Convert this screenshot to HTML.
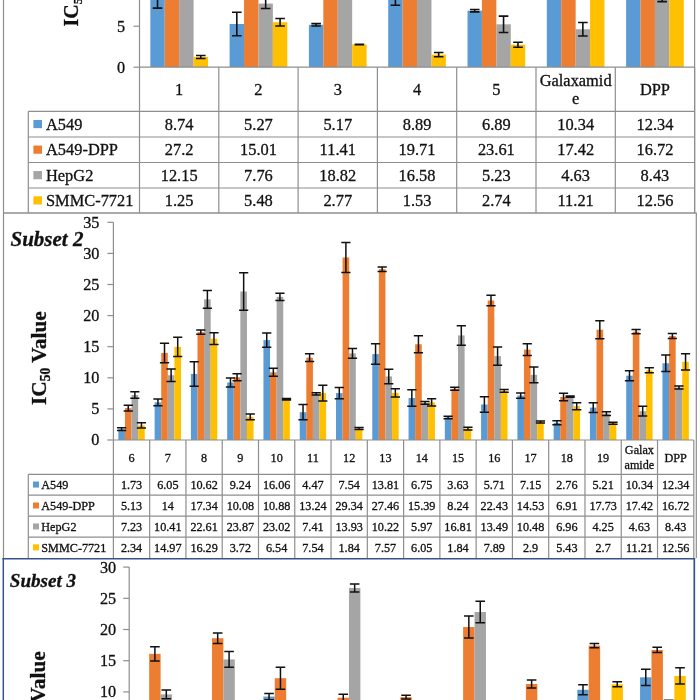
<!DOCTYPE html>
<html><head><meta charset="utf-8"><title>IC50 charts</title>
<style>html,body{margin:0;padding:0;background:#fff;width:700px;height:700px;overflow:hidden}svg{display:block;filter:blur(0.35px)}text{font-family:"Liberation Serif",serif;stroke:#111;stroke-width:0.3px}</style>
</head><body>
<svg width="700" height="700" viewBox="0 0 700 700" font-family="'Liberation Serif', serif" fill="#111">
<defs>
<clipPath id="c1"><rect x="0" y="0" width="700" height="67.2"/></clipPath>
<clipPath id="c2"><rect x="0" y="213" width="700" height="227"/></clipPath>
<clipPath id="c3"><rect x="0" y="558" width="700" height="142"/></clipPath>
</defs>
<rect width="700" height="700" fill="#fff"/>
<g clip-path="url(#c1)">
<rect x="150.31" y="-4.47" width="14.42" height="71.67" fill="#5B9BD5"/>
<rect x="164.73" y="-155.84" width="14.42" height="223.04" fill="#ED7D31"/>
<rect x="179.15" y="-32.43" width="14.42" height="99.63" fill="#A5A5A5"/>
<rect x="193.57" y="56.95" width="14.42" height="10.25" fill="#FFC000"/>
<rect x="229.61" y="23.99" width="14.42" height="43.21" fill="#5B9BD5"/>
<rect x="244.03" y="-55.88" width="14.42" height="123.08" fill="#ED7D31"/>
<rect x="258.45" y="3.57" width="14.42" height="63.63" fill="#A5A5A5"/>
<rect x="272.87" y="22.26" width="14.42" height="44.94" fill="#FFC000"/>
<rect x="308.91" y="24.81" width="14.42" height="42.39" fill="#5B9BD5"/>
<rect x="323.33" y="-26.36" width="14.42" height="93.56" fill="#ED7D31"/>
<rect x="337.75" y="-87.12" width="14.42" height="154.32" fill="#A5A5A5"/>
<rect x="352.17" y="44.49" width="14.42" height="22.71" fill="#FFC000"/>
<rect x="388.21" y="-5.70" width="14.42" height="72.90" fill="#5B9BD5"/>
<rect x="402.63" y="-94.42" width="14.42" height="161.62" fill="#ED7D31"/>
<rect x="417.05" y="-68.76" width="14.42" height="135.96" fill="#A5A5A5"/>
<rect x="431.47" y="54.65" width="14.42" height="12.55" fill="#FFC000"/>
<rect x="467.51" y="10.70" width="14.42" height="56.50" fill="#5B9BD5"/>
<rect x="481.93" y="-126.40" width="14.42" height="193.60" fill="#ED7D31"/>
<rect x="496.35" y="24.31" width="14.42" height="42.89" fill="#A5A5A5"/>
<rect x="510.77" y="44.73" width="14.42" height="22.47" fill="#FFC000"/>
<rect x="546.81" y="-17.59" width="14.42" height="84.79" fill="#5B9BD5"/>
<rect x="561.23" y="-75.64" width="14.42" height="142.84" fill="#ED7D31"/>
<rect x="575.65" y="29.23" width="14.42" height="37.97" fill="#A5A5A5"/>
<rect x="590.07" y="-24.72" width="14.42" height="91.92" fill="#FFC000"/>
<rect x="626.11" y="-33.99" width="14.42" height="101.19" fill="#5B9BD5"/>
<rect x="640.53" y="-69.90" width="14.42" height="137.10" fill="#ED7D31"/>
<rect x="654.95" y="-1.93" width="14.42" height="69.13" fill="#A5A5A5"/>
<rect x="669.37" y="-35.79" width="14.42" height="102.99" fill="#FFC000"/>
<path d="M152.72 -17.10H162.32M152.72 8.16H162.32M157.52 -17.10V8.16" stroke="#111" stroke-width="1.6" fill="none"/>
<path d="M167.14 -168.14H176.74M167.14 -143.54H176.74M171.94 -168.14V-143.54" stroke="#111" stroke-width="1.6" fill="none"/>
<path d="M181.56 -38.99H191.16M181.56 -25.87H191.16M186.36 -38.99V-25.87" stroke="#111" stroke-width="1.6" fill="none"/>
<path d="M195.98 55.47H205.58M195.98 58.43H205.58M200.78 55.47V58.43" stroke="#111" stroke-width="1.6" fill="none"/>
<path d="M232.02 12.26H241.62M232.02 35.71H241.62M236.82 12.26V35.71" stroke="#111" stroke-width="1.6" fill="none"/>
<path d="M246.44 -64.08H256.04M246.44 -47.68H256.04M251.24 -64.08V-47.68" stroke="#111" stroke-width="1.6" fill="none"/>
<path d="M260.86 -1.35H270.46M260.86 8.49H270.46M265.66 -1.35V8.49" stroke="#111" stroke-width="1.6" fill="none"/>
<path d="M275.28 18.57H284.88M275.28 25.95H284.88M280.08 18.57V25.95" stroke="#111" stroke-width="1.6" fill="none"/>
<path d="M311.32 23.66H320.92M311.32 25.95H320.92M316.12 23.66V25.95" stroke="#111" stroke-width="1.6" fill="none"/>
<path d="M325.74 -31.28H335.34M325.74 -21.44H335.34M330.54 -31.28V-21.44" stroke="#111" stroke-width="1.6" fill="none"/>
<path d="M340.16 -95.32H349.76M340.16 -78.92H349.76M344.96 -95.32V-78.92" stroke="#111" stroke-width="1.6" fill="none"/>
<path d="M354.58 44.24H364.18M354.58 44.73H364.18M359.38 44.24V44.73" stroke="#111" stroke-width="1.6" fill="none"/>
<path d="M390.62 -16.69H400.22M390.62 5.29H400.22M395.42 -16.69V5.29" stroke="#111" stroke-width="1.6" fill="none"/>
<path d="M405.04 -102.62H414.64M405.04 -86.22H414.64M409.84 -102.62V-86.22" stroke="#111" stroke-width="1.6" fill="none"/>
<path d="M419.46 -76.14H429.06M419.46 -61.38H429.06M424.26 -76.14V-61.38" stroke="#111" stroke-width="1.6" fill="none"/>
<path d="M433.88 52.52H443.48M433.88 56.79H443.48M438.68 52.52V56.79" stroke="#111" stroke-width="1.6" fill="none"/>
<path d="M469.92 9.55H479.52M469.92 11.85H479.52M474.72 9.55V11.85" stroke="#111" stroke-width="1.6" fill="none"/>
<path d="M484.34 -136.24H493.94M484.34 -116.56H493.94M489.14 -136.24V-116.56" stroke="#111" stroke-width="1.6" fill="none"/>
<path d="M498.76 16.11H508.36M498.76 32.51H508.36M503.56 16.11V32.51" stroke="#111" stroke-width="1.6" fill="none"/>
<path d="M513.18 42.19H522.78M513.18 47.27H522.78M517.98 42.19V47.27" stroke="#111" stroke-width="1.6" fill="none"/>
<path d="M549.22 -24.15H558.82M549.22 -11.03H558.82M554.02 -24.15V-11.03" stroke="#111" stroke-width="1.6" fill="none"/>
<path d="M563.64 -78.51H573.24M563.64 -72.77H573.24M568.44 -78.51V-72.77" stroke="#111" stroke-width="1.6" fill="none"/>
<path d="M578.06 22.51H587.66M578.06 35.96H587.66M582.86 22.51V35.96" stroke="#111" stroke-width="1.6" fill="none"/>
<path d="M592.48 -28.00H602.08M592.48 -21.44H602.08M597.28 -28.00V-21.44" stroke="#111" stroke-width="1.6" fill="none"/>
<path d="M628.52 -44.65H638.12M628.52 -23.33H638.12M633.32 -44.65V-23.33" stroke="#111" stroke-width="1.6" fill="none"/>
<path d="M642.94 -73.35H652.54M642.94 -66.46H652.54M647.74 -73.35V-66.46" stroke="#111" stroke-width="1.6" fill="none"/>
<path d="M657.36 -5.45H666.96M657.36 1.60H666.96M662.16 -5.45V1.60" stroke="#111" stroke-width="1.6" fill="none"/>
<path d="M671.78 -46.45H681.38M671.78 -25.13H681.38M676.58 -46.45V-25.13" stroke="#111" stroke-width="1.6" fill="none"/>
</g>
<line x1="139.50" y1="0.00" x2="139.50" y2="111.30" stroke="#8e8e8e" stroke-width="1.2"/>
<line x1="133.50" y1="67.20" x2="139.50" y2="67.20" stroke="#8e8e8e" stroke-width="1.2"/>
<text x="125.00" y="72.60" font-size="16.2" text-anchor="end" font-weight="normal" font-style="normal" >0</text>
<line x1="133.50" y1="26.20" x2="139.50" y2="26.20" stroke="#8e8e8e" stroke-width="1.2"/>
<text x="125.00" y="31.60" font-size="16.2" text-anchor="end" font-weight="normal" font-style="normal" >5</text>
<line x1="139.50" y1="67.20" x2="694.60" y2="67.20" stroke="#8e8e8e" stroke-width="1.2"/>
<line x1="218.80" y1="67.20" x2="218.80" y2="213.00" stroke="#8e8e8e" stroke-width="1.2"/>
<line x1="298.10" y1="67.20" x2="298.10" y2="213.00" stroke="#8e8e8e" stroke-width="1.2"/>
<line x1="377.40" y1="67.20" x2="377.40" y2="213.00" stroke="#8e8e8e" stroke-width="1.2"/>
<line x1="456.70" y1="67.20" x2="456.70" y2="213.00" stroke="#8e8e8e" stroke-width="1.2"/>
<line x1="536.00" y1="67.20" x2="536.00" y2="213.00" stroke="#8e8e8e" stroke-width="1.2"/>
<line x1="615.30" y1="67.20" x2="615.30" y2="213.00" stroke="#8e8e8e" stroke-width="1.2"/>
<line x1="694.60" y1="67.20" x2="694.60" y2="213.00" stroke="#8e8e8e" stroke-width="1.2"/>
<line x1="28.30" y1="111.30" x2="28.30" y2="213.00" stroke="#8e8e8e" stroke-width="1.2"/>
<line x1="139.50" y1="111.30" x2="139.50" y2="213.00" stroke="#8e8e8e" stroke-width="1.2"/>
<line x1="28.30" y1="111.30" x2="694.60" y2="111.30" stroke="#8e8e8e" stroke-width="1.2"/>
<line x1="28.30" y1="137.00" x2="694.60" y2="137.00" stroke="#8e8e8e" stroke-width="1.2"/>
<line x1="28.30" y1="162.50" x2="694.60" y2="162.50" stroke="#8e8e8e" stroke-width="1.2"/>
<line x1="28.30" y1="188.00" x2="694.60" y2="188.00" stroke="#8e8e8e" stroke-width="1.2"/>
<text x="179.15" y="94.80" font-size="16.4" text-anchor="middle" font-weight="normal" font-style="normal" >1</text>
<text x="258.45" y="94.80" font-size="16.4" text-anchor="middle" font-weight="normal" font-style="normal" >2</text>
<text x="337.75" y="94.80" font-size="16.4" text-anchor="middle" font-weight="normal" font-style="normal" >3</text>
<text x="417.05" y="94.80" font-size="16.4" text-anchor="middle" font-weight="normal" font-style="normal" >4</text>
<text x="496.35" y="94.80" font-size="16.4" text-anchor="middle" font-weight="normal" font-style="normal" >5</text>
<text x="575.65" y="85.50" font-size="16.4" text-anchor="middle" font-weight="normal" font-style="normal" >Galaxamid</text>
<text x="575.65" y="104.00" font-size="16.4" text-anchor="middle" font-weight="normal" font-style="normal" >e</text>
<text x="654.95" y="94.80" font-size="16.4" text-anchor="middle" font-weight="normal" font-style="normal" >DPP</text>
<rect x="33.40" y="119.95" width="8.60" height="8.20" fill="#5B9BD5"/>
<text x="46.00" y="129.65" font-size="16.4" text-anchor="start" font-weight="normal" font-style="normal" >A549</text>
<text x="179.15" y="129.65" font-size="16.4" text-anchor="middle" font-weight="normal" font-style="normal" >8.74</text>
<text x="258.45" y="129.65" font-size="16.4" text-anchor="middle" font-weight="normal" font-style="normal" >5.27</text>
<text x="337.75" y="129.65" font-size="16.4" text-anchor="middle" font-weight="normal" font-style="normal" >5.17</text>
<text x="417.05" y="129.65" font-size="16.4" text-anchor="middle" font-weight="normal" font-style="normal" >8.89</text>
<text x="496.35" y="129.65" font-size="16.4" text-anchor="middle" font-weight="normal" font-style="normal" >6.89</text>
<text x="575.65" y="129.65" font-size="16.4" text-anchor="middle" font-weight="normal" font-style="normal" >10.34</text>
<text x="654.95" y="129.65" font-size="16.4" text-anchor="middle" font-weight="normal" font-style="normal" >12.34</text>
<rect x="33.40" y="145.55" width="8.60" height="8.20" fill="#ED7D31"/>
<text x="46.00" y="155.25" font-size="16.4" text-anchor="start" font-weight="normal" font-style="normal" >A549-DPP</text>
<text x="179.15" y="155.25" font-size="16.4" text-anchor="middle" font-weight="normal" font-style="normal" >27.2</text>
<text x="258.45" y="155.25" font-size="16.4" text-anchor="middle" font-weight="normal" font-style="normal" >15.01</text>
<text x="337.75" y="155.25" font-size="16.4" text-anchor="middle" font-weight="normal" font-style="normal" >11.41</text>
<text x="417.05" y="155.25" font-size="16.4" text-anchor="middle" font-weight="normal" font-style="normal" >19.71</text>
<text x="496.35" y="155.25" font-size="16.4" text-anchor="middle" font-weight="normal" font-style="normal" >23.61</text>
<text x="575.65" y="155.25" font-size="16.4" text-anchor="middle" font-weight="normal" font-style="normal" >17.42</text>
<text x="654.95" y="155.25" font-size="16.4" text-anchor="middle" font-weight="normal" font-style="normal" >16.72</text>
<rect x="33.40" y="171.05" width="8.60" height="8.20" fill="#A5A5A5"/>
<text x="46.00" y="180.75" font-size="16.4" text-anchor="start" font-weight="normal" font-style="normal" >HepG2</text>
<text x="179.15" y="180.75" font-size="16.4" text-anchor="middle" font-weight="normal" font-style="normal" >12.15</text>
<text x="258.45" y="180.75" font-size="16.4" text-anchor="middle" font-weight="normal" font-style="normal" >7.76</text>
<text x="337.75" y="180.75" font-size="16.4" text-anchor="middle" font-weight="normal" font-style="normal" >18.82</text>
<text x="417.05" y="180.75" font-size="16.4" text-anchor="middle" font-weight="normal" font-style="normal" >16.58</text>
<text x="496.35" y="180.75" font-size="16.4" text-anchor="middle" font-weight="normal" font-style="normal" >5.23</text>
<text x="575.65" y="180.75" font-size="16.4" text-anchor="middle" font-weight="normal" font-style="normal" >4.63</text>
<text x="654.95" y="180.75" font-size="16.4" text-anchor="middle" font-weight="normal" font-style="normal" >8.43</text>
<rect x="33.40" y="196.30" width="8.60" height="8.20" fill="#FFC000"/>
<text x="46.00" y="206.00" font-size="16.4" text-anchor="start" font-weight="normal" font-style="normal" >SMMC-7721</text>
<text x="179.15" y="206.00" font-size="16.4" text-anchor="middle" font-weight="normal" font-style="normal" >1.25</text>
<text x="258.45" y="206.00" font-size="16.4" text-anchor="middle" font-weight="normal" font-style="normal" >5.48</text>
<text x="337.75" y="206.00" font-size="16.4" text-anchor="middle" font-weight="normal" font-style="normal" >2.77</text>
<text x="417.05" y="206.00" font-size="16.4" text-anchor="middle" font-weight="normal" font-style="normal" >1.53</text>
<text x="496.35" y="206.00" font-size="16.4" text-anchor="middle" font-weight="normal" font-style="normal" >2.74</text>
<text x="575.65" y="206.00" font-size="16.4" text-anchor="middle" font-weight="normal" font-style="normal" >11.21</text>
<text x="654.95" y="206.00" font-size="16.4" text-anchor="middle" font-weight="normal" font-style="normal" >12.56</text>
<text transform="translate(77.5,26.6) rotate(-90)" font-size="20" font-weight="bold" text-anchor="start">IC<tspan font-size="12.8" dy="4.3">50</tspan><tspan dy="-4.5"> Value</tspan></text>
<line x1="3.50" y1="0.00" x2="3.50" y2="213.00" stroke="#8e8e8e" stroke-width="1.2"/>
<line x1="694.60" y1="0.00" x2="694.60" y2="213.00" stroke="#8e8e8e" stroke-width="1.2"/>
<g clip-path="url(#c2)">
<rect x="118.35" y="429.24" width="6.60" height="10.76" fill="#5B9BD5"/>
<rect x="124.94" y="408.09" width="6.60" height="31.91" fill="#ED7D31"/>
<rect x="131.54" y="395.03" width="6.60" height="44.97" fill="#A5A5A5"/>
<rect x="138.13" y="425.45" width="6.60" height="14.55" fill="#FFC000"/>
<rect x="154.62" y="402.37" width="6.60" height="37.63" fill="#5B9BD5"/>
<rect x="161.22" y="352.92" width="6.60" height="87.08" fill="#ED7D31"/>
<rect x="167.81" y="375.25" width="6.60" height="64.75" fill="#A5A5A5"/>
<rect x="174.41" y="346.89" width="6.60" height="93.11" fill="#FFC000"/>
<rect x="190.90" y="373.94" width="6.60" height="66.06" fill="#5B9BD5"/>
<rect x="197.49" y="332.15" width="6.60" height="107.85" fill="#ED7D31"/>
<rect x="204.09" y="299.37" width="6.60" height="140.63" fill="#A5A5A5"/>
<rect x="210.68" y="338.68" width="6.60" height="101.32" fill="#FFC000"/>
<rect x="227.17" y="382.53" width="6.60" height="57.47" fill="#5B9BD5"/>
<rect x="233.77" y="377.30" width="6.60" height="62.70" fill="#ED7D31"/>
<rect x="240.36" y="291.53" width="6.60" height="148.47" fill="#A5A5A5"/>
<rect x="246.96" y="416.86" width="6.60" height="23.14" fill="#FFC000"/>
<rect x="263.45" y="340.11" width="6.60" height="99.89" fill="#5B9BD5"/>
<rect x="270.04" y="372.33" width="6.60" height="67.67" fill="#ED7D31"/>
<rect x="276.64" y="296.82" width="6.60" height="143.18" fill="#A5A5A5"/>
<rect x="283.23" y="399.32" width="6.60" height="40.68" fill="#FFC000"/>
<rect x="299.72" y="412.20" width="6.60" height="27.80" fill="#5B9BD5"/>
<rect x="306.32" y="357.65" width="6.60" height="82.35" fill="#ED7D31"/>
<rect x="312.91" y="393.91" width="6.60" height="46.09" fill="#A5A5A5"/>
<rect x="319.51" y="393.10" width="6.60" height="46.90" fill="#FFC000"/>
<rect x="336.00" y="393.10" width="6.60" height="46.90" fill="#5B9BD5"/>
<rect x="342.59" y="257.51" width="6.60" height="182.49" fill="#ED7D31"/>
<rect x="349.19" y="353.36" width="6.60" height="86.64" fill="#A5A5A5"/>
<rect x="355.78" y="428.56" width="6.60" height="11.44" fill="#FFC000"/>
<rect x="372.27" y="354.10" width="6.60" height="85.90" fill="#5B9BD5"/>
<rect x="378.87" y="269.20" width="6.60" height="170.80" fill="#ED7D31"/>
<rect x="385.46" y="376.43" width="6.60" height="63.57" fill="#A5A5A5"/>
<rect x="392.06" y="392.91" width="6.60" height="47.09" fill="#FFC000"/>
<rect x="408.55" y="398.01" width="6.60" height="41.98" fill="#5B9BD5"/>
<rect x="415.14" y="344.27" width="6.60" height="95.73" fill="#ED7D31"/>
<rect x="421.74" y="402.87" width="6.60" height="37.13" fill="#A5A5A5"/>
<rect x="428.33" y="402.37" width="6.60" height="37.63" fill="#FFC000"/>
<rect x="444.82" y="417.42" width="6.60" height="22.58" fill="#5B9BD5"/>
<rect x="451.42" y="388.75" width="6.60" height="51.25" fill="#ED7D31"/>
<rect x="458.01" y="335.44" width="6.60" height="104.56" fill="#A5A5A5"/>
<rect x="464.61" y="428.56" width="6.60" height="11.44" fill="#FFC000"/>
<rect x="481.10" y="404.48" width="6.60" height="35.52" fill="#5B9BD5"/>
<rect x="487.69" y="300.49" width="6.60" height="139.51" fill="#ED7D31"/>
<rect x="494.29" y="356.09" width="6.60" height="83.91" fill="#A5A5A5"/>
<rect x="500.88" y="390.92" width="6.60" height="49.08" fill="#FFC000"/>
<rect x="517.37" y="395.53" width="6.60" height="44.47" fill="#5B9BD5"/>
<rect x="523.97" y="349.62" width="6.60" height="90.38" fill="#ED7D31"/>
<rect x="530.56" y="374.81" width="6.60" height="65.19" fill="#A5A5A5"/>
<rect x="537.16" y="421.96" width="6.60" height="18.04" fill="#FFC000"/>
<rect x="553.65" y="422.83" width="6.60" height="17.17" fill="#5B9BD5"/>
<rect x="560.24" y="397.02" width="6.60" height="42.98" fill="#ED7D31"/>
<rect x="566.84" y="396.71" width="6.60" height="43.29" fill="#A5A5A5"/>
<rect x="573.43" y="406.23" width="6.60" height="33.77" fill="#FFC000"/>
<rect x="589.92" y="407.59" width="6.60" height="32.41" fill="#5B9BD5"/>
<rect x="596.52" y="329.72" width="6.60" height="110.28" fill="#ED7D31"/>
<rect x="603.11" y="413.56" width="6.60" height="26.43" fill="#A5A5A5"/>
<rect x="609.71" y="423.21" width="6.60" height="16.79" fill="#FFC000"/>
<rect x="626.20" y="375.69" width="6.60" height="64.31" fill="#5B9BD5"/>
<rect x="632.79" y="331.65" width="6.60" height="108.35" fill="#ED7D31"/>
<rect x="639.39" y="411.20" width="6.60" height="28.80" fill="#A5A5A5"/>
<rect x="645.98" y="370.27" width="6.60" height="69.73" fill="#FFC000"/>
<rect x="662.47" y="363.25" width="6.60" height="76.75" fill="#5B9BD5"/>
<rect x="669.07" y="336.00" width="6.60" height="104.00" fill="#ED7D31"/>
<rect x="675.66" y="387.57" width="6.60" height="52.43" fill="#A5A5A5"/>
<rect x="682.26" y="361.88" width="6.60" height="78.12" fill="#FFC000"/>
<path d="M117.04 427.87H126.24M117.04 430.61H126.24M121.64 427.87V430.61" stroke="#111" stroke-width="1.5" fill="none"/>
<path d="M123.64 405.29H132.84M123.64 410.89H132.84M128.24 405.29V410.89" stroke="#111" stroke-width="1.5" fill="none"/>
<path d="M130.24 391.80H139.44M130.24 398.26H139.44M134.84 391.80V398.26" stroke="#111" stroke-width="1.5" fill="none"/>
<path d="M136.83 422.77H146.03M136.83 428.12H146.03M141.43 422.77V428.12" stroke="#111" stroke-width="1.5" fill="none"/>
<path d="M153.32 398.95H162.52M153.32 405.79H162.52M157.92 398.95V405.79" stroke="#111" stroke-width="1.5" fill="none"/>
<path d="M159.91 343.15H169.11M159.91 362.69H169.11M164.51 343.15V362.69" stroke="#111" stroke-width="1.5" fill="none"/>
<path d="M166.51 369.03H175.71M166.51 381.47H175.71M171.11 369.03V381.47" stroke="#111" stroke-width="1.5" fill="none"/>
<path d="M173.11 337.25H182.31M173.11 356.53H182.31M177.71 337.25V356.53" stroke="#111" stroke-width="1.5" fill="none"/>
<path d="M189.59 361.75H198.79M189.59 386.13H198.79M194.19 361.75V386.13" stroke="#111" stroke-width="1.5" fill="none"/>
<path d="M196.19 330.03H205.39M196.19 334.26H205.39M200.79 330.03V334.26" stroke="#111" stroke-width="1.5" fill="none"/>
<path d="M202.79 290.47H211.99M202.79 308.26H211.99M207.39 290.47V308.26" stroke="#111" stroke-width="1.5" fill="none"/>
<path d="M209.38 332.77H218.58M209.38 344.59H218.58M213.98 332.77V344.59" stroke="#111" stroke-width="1.5" fill="none"/>
<path d="M225.87 378.05H235.07M225.87 387.01H235.07M230.47 378.05V387.01" stroke="#111" stroke-width="1.5" fill="none"/>
<path d="M232.46 373.76H241.66M232.46 380.85H241.66M237.06 373.76V380.85" stroke="#111" stroke-width="1.5" fill="none"/>
<path d="M239.06 272.87H248.26M239.06 310.19H248.26M243.66 272.87V310.19" stroke="#111" stroke-width="1.5" fill="none"/>
<path d="M245.66 414.00H254.86M245.66 419.72H254.86M250.26 414.00V419.72" stroke="#111" stroke-width="1.5" fill="none"/>
<path d="M262.14 333.02H271.34M262.14 347.20H271.34M266.74 333.02V347.20" stroke="#111" stroke-width="1.5" fill="none"/>
<path d="M268.74 368.35H277.94M268.74 376.31H277.94M273.34 368.35V376.31" stroke="#111" stroke-width="1.5" fill="none"/>
<path d="M275.34 293.15H284.54M275.34 300.49H284.54M279.94 293.15V300.49" stroke="#111" stroke-width="1.5" fill="none"/>
<path d="M281.93 398.57H291.13M281.93 400.07H291.13M286.53 398.57V400.07" stroke="#111" stroke-width="1.5" fill="none"/>
<path d="M298.42 404.55H307.62M298.42 419.85H307.62M303.02 404.55V419.85" stroke="#111" stroke-width="1.5" fill="none"/>
<path d="M305.01 353.79H314.21M305.01 361.50H314.21M309.61 353.79V361.50" stroke="#111" stroke-width="1.5" fill="none"/>
<path d="M311.61 392.85H320.81M311.61 394.97H320.81M316.21 392.85V394.97" stroke="#111" stroke-width="1.5" fill="none"/>
<path d="M318.21 385.26H327.41M318.21 400.94H327.41M322.81 385.26V400.94" stroke="#111" stroke-width="1.5" fill="none"/>
<path d="M334.69 387.57H343.89M334.69 398.64H343.89M339.29 387.57V398.64" stroke="#111" stroke-width="1.5" fill="none"/>
<path d="M341.29 242.45H350.49M341.29 272.56H350.49M345.89 242.45V272.56" stroke="#111" stroke-width="1.5" fill="none"/>
<path d="M347.89 348.44H357.09M347.89 358.27H357.09M352.49 348.44V358.27" stroke="#111" stroke-width="1.5" fill="none"/>
<path d="M354.48 427.50H363.68M354.48 429.61H363.68M359.08 427.50V429.61" stroke="#111" stroke-width="1.5" fill="none"/>
<path d="M370.97 343.84H380.17M370.97 364.36H380.17M375.57 343.84V364.36" stroke="#111" stroke-width="1.5" fill="none"/>
<path d="M377.56 266.90H386.76M377.56 271.50H386.76M382.16 266.90V271.50" stroke="#111" stroke-width="1.5" fill="none"/>
<path d="M384.16 369.22H393.36M384.16 383.65H393.36M388.76 369.22V383.65" stroke="#111" stroke-width="1.5" fill="none"/>
<path d="M390.76 388.75H399.96M390.76 397.08H399.96M395.36 388.75V397.08" stroke="#111" stroke-width="1.5" fill="none"/>
<path d="M407.24 389.74H416.44M407.24 406.29H416.44M411.84 389.74V406.29" stroke="#111" stroke-width="1.5" fill="none"/>
<path d="M413.84 335.69H423.04M413.84 352.86H423.04M418.44 335.69V352.86" stroke="#111" stroke-width="1.5" fill="none"/>
<path d="M420.44 401.50H429.64M420.44 404.24H429.64M425.04 401.50V404.24" stroke="#111" stroke-width="1.5" fill="none"/>
<path d="M427.03 398.70H436.23M427.03 406.04H436.23M431.63 398.70V406.04" stroke="#111" stroke-width="1.5" fill="none"/>
<path d="M443.52 416.18H452.72M443.52 418.67H452.72M448.12 416.18V418.67" stroke="#111" stroke-width="1.5" fill="none"/>
<path d="M450.11 387.19H459.31M450.11 390.30H459.31M454.71 387.19V390.30" stroke="#111" stroke-width="1.5" fill="none"/>
<path d="M456.71 325.74H465.91M456.71 345.14H465.91M461.31 325.74V345.14" stroke="#111" stroke-width="1.5" fill="none"/>
<path d="M463.31 427.19H472.51M463.31 429.92H472.51M467.91 427.19V429.92" stroke="#111" stroke-width="1.5" fill="none"/>
<path d="M479.79 396.83H488.99M479.79 412.13H488.99M484.39 396.83V412.13" stroke="#111" stroke-width="1.5" fill="none"/>
<path d="M486.39 295.26H495.59M486.39 305.71H495.59M490.99 295.26V305.71" stroke="#111" stroke-width="1.5" fill="none"/>
<path d="M492.99 346.89H502.19M492.99 365.30H502.19M497.59 346.89V365.30" stroke="#111" stroke-width="1.5" fill="none"/>
<path d="M499.58 389.56H508.78M499.58 392.29H508.78M504.18 389.56V392.29" stroke="#111" stroke-width="1.5" fill="none"/>
<path d="M516.07 392.91H525.27M516.07 398.14H525.27M520.67 392.91V398.14" stroke="#111" stroke-width="1.5" fill="none"/>
<path d="M522.66 343.65H531.86M522.66 355.59H531.86M527.26 343.65V355.59" stroke="#111" stroke-width="1.5" fill="none"/>
<path d="M529.26 366.98H538.46M529.26 382.65H538.46M533.86 366.98V382.65" stroke="#111" stroke-width="1.5" fill="none"/>
<path d="M535.86 421.03H545.06M535.86 422.89H545.06M540.46 421.03V422.89" stroke="#111" stroke-width="1.5" fill="none"/>
<path d="M552.34 420.84H561.54M552.34 424.82H561.54M556.94 420.84V424.82" stroke="#111" stroke-width="1.5" fill="none"/>
<path d="M558.94 393.35H568.14M558.94 400.69H568.14M563.54 393.35V400.69" stroke="#111" stroke-width="1.5" fill="none"/>
<path d="M565.54 396.09H574.74M565.54 397.33H574.74M570.14 396.09V397.33" stroke="#111" stroke-width="1.5" fill="none"/>
<path d="M572.13 402.68H581.33M572.13 409.77H581.33M576.73 402.68V409.77" stroke="#111" stroke-width="1.5" fill="none"/>
<path d="M588.62 402.68H597.82M588.62 412.51H597.82M593.22 402.68V412.51" stroke="#111" stroke-width="1.5" fill="none"/>
<path d="M595.21 320.64H604.41M595.21 338.80H604.41M599.81 320.64V338.80" stroke="#111" stroke-width="1.5" fill="none"/>
<path d="M601.81 411.70H611.01M601.81 415.43H611.01M606.41 411.70V415.43" stroke="#111" stroke-width="1.5" fill="none"/>
<path d="M608.41 422.15H617.61M608.41 424.26H617.61M613.01 422.15V424.26" stroke="#111" stroke-width="1.5" fill="none"/>
<path d="M624.89 370.65H634.09M624.89 380.72H634.09M629.49 370.65V380.72" stroke="#111" stroke-width="1.5" fill="none"/>
<path d="M631.49 329.47H640.69M631.49 333.82H640.69M636.09 329.47V333.82" stroke="#111" stroke-width="1.5" fill="none"/>
<path d="M638.09 406.29H647.29M638.09 416.12H647.29M642.69 406.29V416.12" stroke="#111" stroke-width="1.5" fill="none"/>
<path d="M644.68 367.79H653.88M644.68 372.76H653.88M649.28 367.79V372.76" stroke="#111" stroke-width="1.5" fill="none"/>
<path d="M661.17 355.10H670.37M661.17 371.39H670.37M665.77 355.10V371.39" stroke="#111" stroke-width="1.5" fill="none"/>
<path d="M667.76 333.39H676.96M667.76 338.61H676.96M672.36 333.39V338.61" stroke="#111" stroke-width="1.5" fill="none"/>
<path d="M674.36 386.01H683.56M674.36 389.12H683.56M678.96 386.01V389.12" stroke="#111" stroke-width="1.5" fill="none"/>
<path d="M680.96 353.73H690.16M680.96 370.02H690.16M685.56 353.73V370.02" stroke="#111" stroke-width="1.5" fill="none"/>
</g>
<line x1="113.40" y1="222.30" x2="113.40" y2="474.30" stroke="#8e8e8e" stroke-width="1.2"/>
<line x1="107.40" y1="440.00" x2="113.40" y2="440.00" stroke="#8e8e8e" stroke-width="1.2"/>
<text x="99.40" y="445.40" font-size="16.2" text-anchor="end" font-weight="normal" font-style="normal" >0</text>
<line x1="107.40" y1="408.90" x2="113.40" y2="408.90" stroke="#8e8e8e" stroke-width="1.2"/>
<text x="99.40" y="414.30" font-size="16.2" text-anchor="end" font-weight="normal" font-style="normal" >5</text>
<line x1="107.40" y1="377.80" x2="113.40" y2="377.80" stroke="#8e8e8e" stroke-width="1.2"/>
<text x="99.40" y="383.20" font-size="16.2" text-anchor="end" font-weight="normal" font-style="normal" >10</text>
<line x1="107.40" y1="346.70" x2="113.40" y2="346.70" stroke="#8e8e8e" stroke-width="1.2"/>
<text x="99.40" y="352.10" font-size="16.2" text-anchor="end" font-weight="normal" font-style="normal" >15</text>
<line x1="107.40" y1="315.60" x2="113.40" y2="315.60" stroke="#8e8e8e" stroke-width="1.2"/>
<text x="99.40" y="321.00" font-size="16.2" text-anchor="end" font-weight="normal" font-style="normal" >20</text>
<line x1="107.40" y1="284.50" x2="113.40" y2="284.50" stroke="#8e8e8e" stroke-width="1.2"/>
<text x="99.40" y="289.90" font-size="16.2" text-anchor="end" font-weight="normal" font-style="normal" >25</text>
<line x1="107.40" y1="253.40" x2="113.40" y2="253.40" stroke="#8e8e8e" stroke-width="1.2"/>
<text x="99.40" y="258.80" font-size="16.2" text-anchor="end" font-weight="normal" font-style="normal" >30</text>
<line x1="107.40" y1="222.30" x2="113.40" y2="222.30" stroke="#8e8e8e" stroke-width="1.2"/>
<text x="99.40" y="227.70" font-size="16.2" text-anchor="end" font-weight="normal" font-style="normal" >35</text>
<line x1="113.40" y1="440.00" x2="693.80" y2="440.00" stroke="#8e8e8e" stroke-width="1.2"/>
<line x1="149.68" y1="440.00" x2="149.68" y2="558.00" stroke="#8e8e8e" stroke-width="1.2"/>
<line x1="185.95" y1="440.00" x2="185.95" y2="558.00" stroke="#8e8e8e" stroke-width="1.2"/>
<line x1="222.22" y1="440.00" x2="222.22" y2="558.00" stroke="#8e8e8e" stroke-width="1.2"/>
<line x1="258.50" y1="440.00" x2="258.50" y2="558.00" stroke="#8e8e8e" stroke-width="1.2"/>
<line x1="294.77" y1="440.00" x2="294.77" y2="558.00" stroke="#8e8e8e" stroke-width="1.2"/>
<line x1="331.05" y1="440.00" x2="331.05" y2="558.00" stroke="#8e8e8e" stroke-width="1.2"/>
<line x1="367.32" y1="440.00" x2="367.32" y2="558.00" stroke="#8e8e8e" stroke-width="1.2"/>
<line x1="403.60" y1="440.00" x2="403.60" y2="558.00" stroke="#8e8e8e" stroke-width="1.2"/>
<line x1="439.88" y1="440.00" x2="439.88" y2="558.00" stroke="#8e8e8e" stroke-width="1.2"/>
<line x1="476.15" y1="440.00" x2="476.15" y2="558.00" stroke="#8e8e8e" stroke-width="1.2"/>
<line x1="512.42" y1="440.00" x2="512.42" y2="558.00" stroke="#8e8e8e" stroke-width="1.2"/>
<line x1="548.70" y1="440.00" x2="548.70" y2="558.00" stroke="#8e8e8e" stroke-width="1.2"/>
<line x1="584.98" y1="440.00" x2="584.98" y2="558.00" stroke="#8e8e8e" stroke-width="1.2"/>
<line x1="621.25" y1="440.00" x2="621.25" y2="558.00" stroke="#8e8e8e" stroke-width="1.2"/>
<line x1="657.52" y1="440.00" x2="657.52" y2="558.00" stroke="#8e8e8e" stroke-width="1.2"/>
<line x1="693.80" y1="440.00" x2="693.80" y2="558.00" stroke="#8e8e8e" stroke-width="1.2"/>
<line x1="28.30" y1="474.30" x2="28.30" y2="558.00" stroke="#8e8e8e" stroke-width="1.2"/>
<line x1="113.40" y1="474.30" x2="113.40" y2="558.00" stroke="#8e8e8e" stroke-width="1.2"/>
<line x1="28.30" y1="474.30" x2="693.80" y2="474.30" stroke="#8e8e8e" stroke-width="1.2"/>
<line x1="28.30" y1="495.20" x2="693.80" y2="495.20" stroke="#8e8e8e" stroke-width="1.2"/>
<line x1="28.30" y1="516.20" x2="693.80" y2="516.20" stroke="#8e8e8e" stroke-width="1.2"/>
<line x1="28.30" y1="537.10" x2="693.80" y2="537.10" stroke="#8e8e8e" stroke-width="1.2"/>
<text x="131.54" y="461.50" font-size="12.2" text-anchor="middle" font-weight="normal" font-style="normal" >6</text>
<text x="167.81" y="461.50" font-size="12.2" text-anchor="middle" font-weight="normal" font-style="normal" >7</text>
<text x="204.09" y="461.50" font-size="12.2" text-anchor="middle" font-weight="normal" font-style="normal" >8</text>
<text x="240.36" y="461.50" font-size="12.2" text-anchor="middle" font-weight="normal" font-style="normal" >9</text>
<text x="276.64" y="461.50" font-size="12.2" text-anchor="middle" font-weight="normal" font-style="normal" >10</text>
<text x="312.91" y="461.50" font-size="12.2" text-anchor="middle" font-weight="normal" font-style="normal" >11</text>
<text x="349.19" y="461.50" font-size="12.2" text-anchor="middle" font-weight="normal" font-style="normal" >12</text>
<text x="385.46" y="461.50" font-size="12.2" text-anchor="middle" font-weight="normal" font-style="normal" >13</text>
<text x="421.74" y="461.50" font-size="12.2" text-anchor="middle" font-weight="normal" font-style="normal" >14</text>
<text x="458.01" y="461.50" font-size="12.2" text-anchor="middle" font-weight="normal" font-style="normal" >15</text>
<text x="494.29" y="461.50" font-size="12.2" text-anchor="middle" font-weight="normal" font-style="normal" >16</text>
<text x="530.56" y="461.50" font-size="12.2" text-anchor="middle" font-weight="normal" font-style="normal" >17</text>
<text x="566.84" y="461.50" font-size="12.2" text-anchor="middle" font-weight="normal" font-style="normal" >18</text>
<text x="603.11" y="461.50" font-size="12.2" text-anchor="middle" font-weight="normal" font-style="normal" >19</text>
<text x="639.39" y="453.50" font-size="12.2" text-anchor="middle" font-weight="normal" font-style="normal" >Galax</text>
<text x="639.39" y="468.50" font-size="12.2" text-anchor="middle" font-weight="normal" font-style="normal" >amide</text>
<text x="675.66" y="461.50" font-size="12.2" text-anchor="middle" font-weight="normal" font-style="normal" >DPP</text>
<rect x="33.00" y="481.55" width="6.00" height="6.00" fill="#5B9BD5"/>
<text x="41.30" y="488.95" font-size="12.2" text-anchor="start" font-weight="normal" font-style="normal" >A549</text>
<text x="131.54" y="488.95" font-size="12.2" text-anchor="middle" font-weight="normal" font-style="normal" >1.73</text>
<text x="167.81" y="488.95" font-size="12.2" text-anchor="middle" font-weight="normal" font-style="normal" >6.05</text>
<text x="204.09" y="488.95" font-size="12.2" text-anchor="middle" font-weight="normal" font-style="normal" >10.62</text>
<text x="240.36" y="488.95" font-size="12.2" text-anchor="middle" font-weight="normal" font-style="normal" >9.24</text>
<text x="276.64" y="488.95" font-size="12.2" text-anchor="middle" font-weight="normal" font-style="normal" >16.06</text>
<text x="312.91" y="488.95" font-size="12.2" text-anchor="middle" font-weight="normal" font-style="normal" >4.47</text>
<text x="349.19" y="488.95" font-size="12.2" text-anchor="middle" font-weight="normal" font-style="normal" >7.54</text>
<text x="385.46" y="488.95" font-size="12.2" text-anchor="middle" font-weight="normal" font-style="normal" >13.81</text>
<text x="421.74" y="488.95" font-size="12.2" text-anchor="middle" font-weight="normal" font-style="normal" >6.75</text>
<text x="458.01" y="488.95" font-size="12.2" text-anchor="middle" font-weight="normal" font-style="normal" >3.63</text>
<text x="494.29" y="488.95" font-size="12.2" text-anchor="middle" font-weight="normal" font-style="normal" >5.71</text>
<text x="530.56" y="488.95" font-size="12.2" text-anchor="middle" font-weight="normal" font-style="normal" >7.15</text>
<text x="566.84" y="488.95" font-size="12.2" text-anchor="middle" font-weight="normal" font-style="normal" >2.76</text>
<text x="603.11" y="488.95" font-size="12.2" text-anchor="middle" font-weight="normal" font-style="normal" >5.21</text>
<text x="639.39" y="488.95" font-size="12.2" text-anchor="middle" font-weight="normal" font-style="normal" >10.34</text>
<text x="675.66" y="488.95" font-size="12.2" text-anchor="middle" font-weight="normal" font-style="normal" >12.34</text>
<rect x="33.00" y="502.50" width="6.00" height="6.00" fill="#ED7D31"/>
<text x="41.30" y="509.90" font-size="12.2" text-anchor="start" font-weight="normal" font-style="normal" >A549-DPP</text>
<text x="131.54" y="509.90" font-size="12.2" text-anchor="middle" font-weight="normal" font-style="normal" >5.13</text>
<text x="167.81" y="509.90" font-size="12.2" text-anchor="middle" font-weight="normal" font-style="normal" >14</text>
<text x="204.09" y="509.90" font-size="12.2" text-anchor="middle" font-weight="normal" font-style="normal" >17.34</text>
<text x="240.36" y="509.90" font-size="12.2" text-anchor="middle" font-weight="normal" font-style="normal" >10.08</text>
<text x="276.64" y="509.90" font-size="12.2" text-anchor="middle" font-weight="normal" font-style="normal" >10.88</text>
<text x="312.91" y="509.90" font-size="12.2" text-anchor="middle" font-weight="normal" font-style="normal" >13.24</text>
<text x="349.19" y="509.90" font-size="12.2" text-anchor="middle" font-weight="normal" font-style="normal" >29.34</text>
<text x="385.46" y="509.90" font-size="12.2" text-anchor="middle" font-weight="normal" font-style="normal" >27.46</text>
<text x="421.74" y="509.90" font-size="12.2" text-anchor="middle" font-weight="normal" font-style="normal" >15.39</text>
<text x="458.01" y="509.90" font-size="12.2" text-anchor="middle" font-weight="normal" font-style="normal" >8.24</text>
<text x="494.29" y="509.90" font-size="12.2" text-anchor="middle" font-weight="normal" font-style="normal" >22.43</text>
<text x="530.56" y="509.90" font-size="12.2" text-anchor="middle" font-weight="normal" font-style="normal" >14.53</text>
<text x="566.84" y="509.90" font-size="12.2" text-anchor="middle" font-weight="normal" font-style="normal" >6.91</text>
<text x="603.11" y="509.90" font-size="12.2" text-anchor="middle" font-weight="normal" font-style="normal" >17.73</text>
<text x="639.39" y="509.90" font-size="12.2" text-anchor="middle" font-weight="normal" font-style="normal" >17.42</text>
<text x="675.66" y="509.90" font-size="12.2" text-anchor="middle" font-weight="normal" font-style="normal" >16.72</text>
<rect x="33.00" y="523.45" width="6.00" height="6.00" fill="#A5A5A5"/>
<text x="41.30" y="530.85" font-size="12.2" text-anchor="start" font-weight="normal" font-style="normal" >HepG2</text>
<text x="131.54" y="530.85" font-size="12.2" text-anchor="middle" font-weight="normal" font-style="normal" >7.23</text>
<text x="167.81" y="530.85" font-size="12.2" text-anchor="middle" font-weight="normal" font-style="normal" >10.41</text>
<text x="204.09" y="530.85" font-size="12.2" text-anchor="middle" font-weight="normal" font-style="normal" >22.61</text>
<text x="240.36" y="530.85" font-size="12.2" text-anchor="middle" font-weight="normal" font-style="normal" >23.87</text>
<text x="276.64" y="530.85" font-size="12.2" text-anchor="middle" font-weight="normal" font-style="normal" >23.02</text>
<text x="312.91" y="530.85" font-size="12.2" text-anchor="middle" font-weight="normal" font-style="normal" >7.41</text>
<text x="349.19" y="530.85" font-size="12.2" text-anchor="middle" font-weight="normal" font-style="normal" >13.93</text>
<text x="385.46" y="530.85" font-size="12.2" text-anchor="middle" font-weight="normal" font-style="normal" >10.22</text>
<text x="421.74" y="530.85" font-size="12.2" text-anchor="middle" font-weight="normal" font-style="normal" >5.97</text>
<text x="458.01" y="530.85" font-size="12.2" text-anchor="middle" font-weight="normal" font-style="normal" >16.81</text>
<text x="494.29" y="530.85" font-size="12.2" text-anchor="middle" font-weight="normal" font-style="normal" >13.49</text>
<text x="530.56" y="530.85" font-size="12.2" text-anchor="middle" font-weight="normal" font-style="normal" >10.48</text>
<text x="566.84" y="530.85" font-size="12.2" text-anchor="middle" font-weight="normal" font-style="normal" >6.96</text>
<text x="603.11" y="530.85" font-size="12.2" text-anchor="middle" font-weight="normal" font-style="normal" >4.25</text>
<text x="639.39" y="530.85" font-size="12.2" text-anchor="middle" font-weight="normal" font-style="normal" >4.63</text>
<text x="675.66" y="530.85" font-size="12.2" text-anchor="middle" font-weight="normal" font-style="normal" >8.43</text>
<rect x="33.00" y="544.35" width="6.00" height="6.00" fill="#FFC000"/>
<text x="41.30" y="551.75" font-size="12.2" text-anchor="start" font-weight="normal" font-style="normal" >SMMC-7721</text>
<text x="131.54" y="551.75" font-size="12.2" text-anchor="middle" font-weight="normal" font-style="normal" >2.34</text>
<text x="167.81" y="551.75" font-size="12.2" text-anchor="middle" font-weight="normal" font-style="normal" >14.97</text>
<text x="204.09" y="551.75" font-size="12.2" text-anchor="middle" font-weight="normal" font-style="normal" >16.29</text>
<text x="240.36" y="551.75" font-size="12.2" text-anchor="middle" font-weight="normal" font-style="normal" >3.72</text>
<text x="276.64" y="551.75" font-size="12.2" text-anchor="middle" font-weight="normal" font-style="normal" >6.54</text>
<text x="312.91" y="551.75" font-size="12.2" text-anchor="middle" font-weight="normal" font-style="normal" >7.54</text>
<text x="349.19" y="551.75" font-size="12.2" text-anchor="middle" font-weight="normal" font-style="normal" >1.84</text>
<text x="385.46" y="551.75" font-size="12.2" text-anchor="middle" font-weight="normal" font-style="normal" >7.57</text>
<text x="421.74" y="551.75" font-size="12.2" text-anchor="middle" font-weight="normal" font-style="normal" >6.05</text>
<text x="458.01" y="551.75" font-size="12.2" text-anchor="middle" font-weight="normal" font-style="normal" >1.84</text>
<text x="494.29" y="551.75" font-size="12.2" text-anchor="middle" font-weight="normal" font-style="normal" >7.89</text>
<text x="530.56" y="551.75" font-size="12.2" text-anchor="middle" font-weight="normal" font-style="normal" >2.9</text>
<text x="566.84" y="551.75" font-size="12.2" text-anchor="middle" font-weight="normal" font-style="normal" >5.43</text>
<text x="603.11" y="551.75" font-size="12.2" text-anchor="middle" font-weight="normal" font-style="normal" >2.7</text>
<text x="639.39" y="551.75" font-size="12.2" text-anchor="middle" font-weight="normal" font-style="normal" >11.21</text>
<text x="675.66" y="551.75" font-size="12.2" text-anchor="middle" font-weight="normal" font-style="normal" >12.56</text>
<text transform="translate(45.5,405) rotate(-90)" font-size="21.4" font-weight="bold" text-anchor="start">IC<tspan font-size="13.6" dy="4.5">50</tspan><tspan dy="-4.5"> Value</tspan></text>
<text x="10.50" y="245.50" font-size="21" text-anchor="start" font-weight="bold" font-style="italic" >Subset 2</text>
<line x1="3.50" y1="213.00" x2="3.50" y2="558.00" stroke="#8e8e8e" stroke-width="1.2"/>
<line x1="696.30" y1="213.00" x2="696.30" y2="558.00" stroke="#8e8e8e" stroke-width="1.2"/>
<line x1="3.00" y1="213.00" x2="696.60" y2="213.00" stroke="#8e8e8e" stroke-width="1.5"/>
<g clip-path="url(#c3)">
<rect x="137.76" y="723.10" width="11.42" height="31.20" fill="#5B9BD5"/>
<rect x="149.18" y="653.84" width="11.42" height="100.46" fill="#ED7D31"/>
<rect x="160.59" y="694.40" width="11.42" height="59.90" fill="#A5A5A5"/>
<rect x="172.01" y="723.10" width="11.42" height="31.20" fill="#FFC000"/>
<rect x="200.55" y="716.86" width="11.42" height="37.44" fill="#5B9BD5"/>
<rect x="211.97" y="638.24" width="11.42" height="116.06" fill="#ED7D31"/>
<rect x="223.38" y="659.45" width="11.42" height="94.85" fill="#A5A5A5"/>
<rect x="234.80" y="723.10" width="11.42" height="31.20" fill="#FFC000"/>
<rect x="263.34" y="696.58" width="11.42" height="57.72" fill="#5B9BD5"/>
<rect x="274.76" y="678.17" width="11.42" height="76.13" fill="#ED7D31"/>
<rect x="286.17" y="723.10" width="11.42" height="31.20" fill="#A5A5A5"/>
<rect x="297.59" y="723.10" width="11.42" height="31.20" fill="#FFC000"/>
<rect x="326.13" y="723.10" width="11.42" height="31.20" fill="#5B9BD5"/>
<rect x="337.54" y="697.70" width="11.42" height="56.60" fill="#ED7D31"/>
<rect x="348.96" y="588.00" width="11.42" height="166.30" fill="#A5A5A5"/>
<rect x="360.38" y="723.10" width="11.42" height="31.20" fill="#FFC000"/>
<rect x="388.92" y="716.86" width="11.42" height="37.44" fill="#5B9BD5"/>
<rect x="400.33" y="697.14" width="11.42" height="57.16" fill="#ED7D31"/>
<rect x="411.75" y="723.10" width="11.42" height="31.20" fill="#A5A5A5"/>
<rect x="423.17" y="723.10" width="11.42" height="31.20" fill="#FFC000"/>
<rect x="451.71" y="723.10" width="11.42" height="31.20" fill="#5B9BD5"/>
<rect x="463.12" y="627.00" width="11.42" height="127.30" fill="#ED7D31"/>
<rect x="474.54" y="612.03" width="11.42" height="142.27" fill="#A5A5A5"/>
<rect x="485.96" y="723.10" width="11.42" height="31.20" fill="#FFC000"/>
<rect x="514.50" y="716.86" width="11.42" height="37.44" fill="#5B9BD5"/>
<rect x="525.91" y="683.98" width="11.42" height="70.32" fill="#ED7D31"/>
<rect x="537.33" y="723.10" width="11.42" height="31.20" fill="#A5A5A5"/>
<rect x="548.74" y="723.10" width="11.42" height="31.20" fill="#FFC000"/>
<rect x="577.28" y="689.78" width="11.42" height="64.52" fill="#5B9BD5"/>
<rect x="588.70" y="645.60" width="11.42" height="108.70" fill="#ED7D31"/>
<rect x="600.12" y="725.41" width="11.42" height="28.89" fill="#A5A5A5"/>
<rect x="611.53" y="684.35" width="11.42" height="69.95" fill="#FFC000"/>
<rect x="640.07" y="677.30" width="11.42" height="77.00" fill="#5B9BD5"/>
<rect x="651.49" y="649.97" width="11.42" height="104.33" fill="#ED7D31"/>
<rect x="662.91" y="701.70" width="11.42" height="52.60" fill="#A5A5A5"/>
<rect x="674.32" y="675.93" width="11.42" height="78.37" fill="#FFC000"/>
<path d="M138.67 719.98H148.27M138.67 726.22H148.27M143.47 719.98V726.22" stroke="#111" stroke-width="1.5" fill="none"/>
<path d="M150.09 646.66H159.69M150.09 661.01H159.69M154.89 646.66V661.01" stroke="#111" stroke-width="1.5" fill="none"/>
<path d="M161.50 690.03H171.10M161.50 698.76H171.10M166.30 690.03V698.76" stroke="#111" stroke-width="1.5" fill="none"/>
<path d="M172.92 719.98H182.52M172.92 726.22H182.52M177.72 719.98V726.22" stroke="#111" stroke-width="1.5" fill="none"/>
<path d="M201.46 713.74H211.06M201.46 719.98H211.06M206.26 713.74V719.98" stroke="#111" stroke-width="1.5" fill="none"/>
<path d="M212.88 632.93H222.48M212.88 643.54H222.48M217.68 632.93V643.54" stroke="#111" stroke-width="1.5" fill="none"/>
<path d="M224.29 651.59H233.89M224.29 667.31H233.89M229.09 651.59V667.31" stroke="#111" stroke-width="1.5" fill="none"/>
<path d="M235.71 719.98H245.31M235.71 726.22H245.31M240.51 719.98V726.22" stroke="#111" stroke-width="1.5" fill="none"/>
<path d="M264.25 693.46H273.85M264.25 699.70H273.85M269.05 693.46V699.70" stroke="#111" stroke-width="1.5" fill="none"/>
<path d="M275.66 667.19H285.26M275.66 689.15H285.26M280.46 667.19V689.15" stroke="#111" stroke-width="1.5" fill="none"/>
<path d="M287.08 719.98H296.68M287.08 726.22H296.68M291.88 719.98V726.22" stroke="#111" stroke-width="1.5" fill="none"/>
<path d="M298.50 719.98H308.10M298.50 726.22H308.10M303.30 719.98V726.22" stroke="#111" stroke-width="1.5" fill="none"/>
<path d="M327.04 719.98H336.64M327.04 726.22H336.64M331.84 719.98V726.22" stroke="#111" stroke-width="1.5" fill="none"/>
<path d="M338.45 694.27H348.05M338.45 701.14H348.05M343.25 694.27V701.14" stroke="#111" stroke-width="1.5" fill="none"/>
<path d="M349.87 583.89H359.47M349.87 592.12H359.47M354.67 583.89V592.12" stroke="#111" stroke-width="1.5" fill="none"/>
<path d="M361.29 719.98H370.89M361.29 726.22H370.89M366.09 719.98V726.22" stroke="#111" stroke-width="1.5" fill="none"/>
<path d="M389.83 713.74H399.43M389.83 719.98H399.43M394.63 713.74V719.98" stroke="#111" stroke-width="1.5" fill="none"/>
<path d="M401.24 695.27H410.84M401.24 699.01H410.84M406.04 695.27V699.01" stroke="#111" stroke-width="1.5" fill="none"/>
<path d="M412.66 719.98H422.26M412.66 726.22H422.26M417.46 719.98V726.22" stroke="#111" stroke-width="1.5" fill="none"/>
<path d="M424.07 719.98H433.67M424.07 726.22H433.67M428.87 719.98V726.22" stroke="#111" stroke-width="1.5" fill="none"/>
<path d="M452.61 719.98H462.21M452.61 726.22H462.21M457.41 719.98V726.22" stroke="#111" stroke-width="1.5" fill="none"/>
<path d="M464.03 616.02H473.63M464.03 637.99H473.63M468.83 616.02V637.99" stroke="#111" stroke-width="1.5" fill="none"/>
<path d="M475.45 601.30H485.05M475.45 622.76H485.05M480.25 601.30V622.76" stroke="#111" stroke-width="1.5" fill="none"/>
<path d="M486.86 719.98H496.46M486.86 726.22H496.46M491.66 719.98V726.22" stroke="#111" stroke-width="1.5" fill="none"/>
<path d="M515.40 713.74H525.00M515.40 719.98H525.00M520.20 713.74V719.98" stroke="#111" stroke-width="1.5" fill="none"/>
<path d="M526.82 679.98H536.42M526.82 687.97H536.42M531.62 679.98V687.97" stroke="#111" stroke-width="1.5" fill="none"/>
<path d="M538.24 719.98H547.84M538.24 726.22H547.84M543.04 719.98V726.22" stroke="#111" stroke-width="1.5" fill="none"/>
<path d="M549.65 719.98H559.25M549.65 726.22H559.25M554.45 719.98V726.22" stroke="#111" stroke-width="1.5" fill="none"/>
<path d="M578.19 684.79H587.79M578.19 694.77H587.79M582.99 684.79V694.77" stroke="#111" stroke-width="1.5" fill="none"/>
<path d="M589.61 643.42H599.21M589.61 647.78H599.21M594.41 643.42V647.78" stroke="#111" stroke-width="1.5" fill="none"/>
<path d="M601.02 720.42H610.62M601.02 730.40H610.62M605.82 720.42V730.40" stroke="#111" stroke-width="1.5" fill="none"/>
<path d="M612.44 681.85H622.04M612.44 686.85H622.04M617.24 681.85V686.85" stroke="#111" stroke-width="1.5" fill="none"/>
<path d="M640.98 669.19H650.58M640.98 685.41H650.58M645.78 669.19V685.41" stroke="#111" stroke-width="1.5" fill="none"/>
<path d="M652.40 647.35H662.00M652.40 652.59H662.00M657.20 647.35V652.59" stroke="#111" stroke-width="1.5" fill="none"/>
<path d="M663.81 700.14H673.41M663.81 703.26H673.41M668.61 700.14V703.26" stroke="#111" stroke-width="1.5" fill="none"/>
<path d="M675.23 667.81H684.83M675.23 684.04H684.83M680.03 667.81V684.04" stroke="#111" stroke-width="1.5" fill="none"/>
</g>
<line x1="129.20" y1="567.10" x2="129.20" y2="700.00" stroke="#8e8e8e" stroke-width="1.2"/>
<line x1="123.20" y1="691.90" x2="129.20" y2="691.90" stroke="#8e8e8e" stroke-width="1.2"/>
<text x="116.20" y="697.30" font-size="16.2" text-anchor="end" font-weight="normal" font-style="normal" >10</text>
<line x1="123.20" y1="660.70" x2="129.20" y2="660.70" stroke="#8e8e8e" stroke-width="1.2"/>
<text x="116.20" y="666.10" font-size="16.2" text-anchor="end" font-weight="normal" font-style="normal" >15</text>
<line x1="123.20" y1="629.50" x2="129.20" y2="629.50" stroke="#8e8e8e" stroke-width="1.2"/>
<text x="116.20" y="634.90" font-size="16.2" text-anchor="end" font-weight="normal" font-style="normal" >20</text>
<line x1="123.20" y1="598.30" x2="129.20" y2="598.30" stroke="#8e8e8e" stroke-width="1.2"/>
<text x="116.20" y="603.70" font-size="16.2" text-anchor="end" font-weight="normal" font-style="normal" >25</text>
<line x1="123.20" y1="567.10" x2="129.20" y2="567.10" stroke="#8e8e8e" stroke-width="1.2"/>
<text x="116.20" y="572.50" font-size="16.2" text-anchor="end" font-weight="normal" font-style="normal" >30</text>
<text transform="translate(45,745) rotate(-90)" font-size="21.4" font-weight="bold" text-anchor="start">IC<tspan font-size="13.6" dy="4.5">50</tspan><tspan dy="-4.5"> Value</tspan></text>
<text x="9.80" y="586.80" font-size="19.1" text-anchor="start" font-weight="bold" font-style="italic" >Subset 3</text>
<line x1="3.30" y1="558.00" x2="3.30" y2="700.00" stroke="#35528f" stroke-width="1.5"/>
<line x1="694.30" y1="558.00" x2="694.30" y2="700.00" stroke="#35528f" stroke-width="1.7"/>
<line x1="2.50" y1="558.70" x2="695.10" y2="558.70" stroke="#35528f" stroke-width="1.5"/>
</svg>
</body></html>
